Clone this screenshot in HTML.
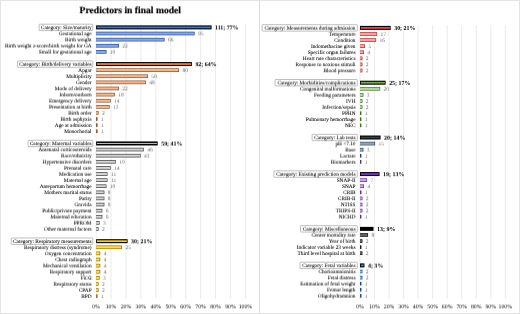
<!DOCTYPE html>
<html><head><meta charset="utf-8"><title>Predictors in final model</title>
<style>
html,body{margin:0;padding:0;background:#fff;}
#wrap{position:relative;width:520px;height:314px;overflow:hidden;background:#fff;}
#frame{position:absolute;left:0;top:0;width:518px;height:312px;border:1px solid #e4e4e4;pointer-events:none;}
svg{position:absolute;left:0;top:0;font-family:"Liberation Serif","Times New Roman",serif;text-rendering:geometricPrecision;}
text.l{stroke:#000;stroke-width:0.06px;}
</style></head><body>
<div id="wrap">
<svg width="520" height="314" viewBox="0 0 520 314">
<defs><filter id="s1" filterUnits="userSpaceOnUse" x="0" y="0" width="520" height="314" color-interpolation-filters="sRGB"><feOffset in="SourceGraphic" dy="1" result="o"/><feComposite in="SourceGraphic" in2="o" operator="arithmetic" k1="0" k2="0.9" k3="0.1" k4="0"/></filter><filter id="s2" filterUnits="userSpaceOnUse" x="0" y="0" width="520" height="314" color-interpolation-filters="sRGB"><feOffset in="SourceGraphic" dy="1" result="o"/><feComposite in="SourceGraphic" in2="o" operator="arithmetic" k1="0" k2="0.8" k3="0.2" k4="0"/></filter><filter id="s3" filterUnits="userSpaceOnUse" x="0" y="0" width="520" height="314" color-interpolation-filters="sRGB"><feOffset in="SourceGraphic" dy="1" result="o"/><feComposite in="SourceGraphic" in2="o" operator="arithmetic" k1="0" k2="0.7" k3="0.3" k4="0"/></filter><filter id="s4" filterUnits="userSpaceOnUse" x="0" y="0" width="520" height="314" color-interpolation-filters="sRGB"><feOffset in="SourceGraphic" dy="1" result="o"/><feComposite in="SourceGraphic" in2="o" operator="arithmetic" k1="0" k2="0.6" k3="0.4" k4="0"/></filter><filter id="s5" filterUnits="userSpaceOnUse" x="0" y="0" width="520" height="314" color-interpolation-filters="sRGB"><feOffset in="SourceGraphic" dy="1" result="o"/><feComposite in="SourceGraphic" in2="o" operator="arithmetic" k1="0" k2="0.5" k3="0.5" k4="0"/></filter><filter id="s6" filterUnits="userSpaceOnUse" x="0" y="0" width="520" height="314" color-interpolation-filters="sRGB"><feOffset in="SourceGraphic" dy="1" result="o"/><feComposite in="SourceGraphic" in2="o" operator="arithmetic" k1="0" k2="0.4" k3="0.6" k4="0"/></filter><filter id="s7" filterUnits="userSpaceOnUse" x="0" y="0" width="520" height="314" color-interpolation-filters="sRGB"><feOffset in="SourceGraphic" dy="1" result="o"/><feComposite in="SourceGraphic" in2="o" operator="arithmetic" k1="0" k2="0.3" k3="0.7" k4="0"/></filter><filter id="s8" filterUnits="userSpaceOnUse" x="0" y="0" width="520" height="314" color-interpolation-filters="sRGB"><feOffset in="SourceGraphic" dy="1" result="o"/><feComposite in="SourceGraphic" in2="o" operator="arithmetic" k1="0" k2="0.2" k3="0.8" k4="0"/></filter><filter id="s9" filterUnits="userSpaceOnUse" x="0" y="0" width="520" height="314" color-interpolation-filters="sRGB"><feOffset in="SourceGraphic" dy="1" result="o"/><feComposite in="SourceGraphic" in2="o" operator="arithmetic" k1="0" k2="0.1" k3="0.9" k4="0"/></filter></defs>
<line x1="259.6" y1="0" x2="259.6" y2="314" stroke="#dadada" stroke-width="1"/>
<line x1="96.10" y1="24.2" x2="96.10" y2="298.8" stroke="#e3e3e3" stroke-width="0.7"/>
<line x1="111.03" y1="24.2" x2="111.03" y2="298.8" stroke="#e3e3e3" stroke-width="0.7"/>
<line x1="125.96" y1="24.2" x2="125.96" y2="298.8" stroke="#e3e3e3" stroke-width="0.7"/>
<line x1="140.89" y1="24.2" x2="140.89" y2="298.8" stroke="#e3e3e3" stroke-width="0.7"/>
<line x1="155.82" y1="24.2" x2="155.82" y2="298.8" stroke="#e3e3e3" stroke-width="0.7"/>
<line x1="170.75" y1="24.2" x2="170.75" y2="298.8" stroke="#e3e3e3" stroke-width="0.7"/>
<line x1="185.68" y1="24.2" x2="185.68" y2="298.8" stroke="#e3e3e3" stroke-width="0.7"/>
<line x1="200.61" y1="24.2" x2="200.61" y2="298.8" stroke="#e3e3e3" stroke-width="0.7"/>
<line x1="215.54" y1="24.2" x2="215.54" y2="298.8" stroke="#e3e3e3" stroke-width="0.7"/>
<line x1="230.47" y1="24.2" x2="230.47" y2="298.8" stroke="#e3e3e3" stroke-width="0.7"/>
<line x1="245.40" y1="24.2" x2="245.40" y2="298.8" stroke="#e3e3e3" stroke-width="0.7"/>
<rect x="39.12" y="24.20" width="53.68" height="6.4" rx="0.6" fill="#fff" stroke="#8a8a8a" stroke-width="0.55"/>
<rect x="96.10" y="25.40" width="115.49" height="4.0" fill="#000"/>
<rect x="96.90" y="26.50" width="113.89" height="1.80" fill="#3a74e0"/>
<rect x="96.10" y="31.71" width="98.50" height="3.60" fill="#243c78"/>
<rect x="96.10" y="32.33" width="97.88" height="2.36" fill="#80a8f2"/>
<rect x="96.10" y="37.82" width="68.43" height="3.60" fill="#243c78"/>
<rect x="96.10" y="38.44" width="67.81" height="2.36" fill="#80a8f2"/>
<rect x="96.10" y="43.92" width="22.81" height="3.60" fill="#243c78"/>
<rect x="96.10" y="44.54" width="22.19" height="2.36" fill="#80a8f2"/>
<rect x="96.10" y="50.03" width="10.37" height="3.60" fill="#243c78"/>
<rect x="96.10" y="50.65" width="9.75" height="2.36" fill="#80a8f2"/>
<rect x="17.45" y="60.85" width="75.35" height="6.4" rx="0.6" fill="#fff" stroke="#8a8a8a" stroke-width="0.55"/>
<rect x="96.10" y="62.05" width="95.79" height="4.0" fill="#000"/>
<rect x="96.90" y="63.15" width="94.19" height="1.80" fill="#f57c20"/>
<rect x="96.10" y="68.36" width="82.94" height="3.60" fill="#7a4822"/>
<rect x="96.10" y="68.98" width="82.32" height="2.36" fill="#fcb284"/>
<rect x="96.10" y="74.46" width="51.84" height="3.60" fill="#7a4822"/>
<rect x="96.10" y="75.08" width="51.22" height="2.36" fill="#fcb284"/>
<rect x="96.10" y="80.57" width="49.77" height="3.60" fill="#7a4822"/>
<rect x="96.10" y="81.19" width="49.15" height="2.36" fill="#fcb284"/>
<rect x="96.10" y="86.68" width="22.81" height="3.60" fill="#7a4822"/>
<rect x="96.10" y="87.30" width="22.19" height="2.36" fill="#fcb284"/>
<rect x="96.10" y="92.79" width="18.66" height="3.60" fill="#7a4822"/>
<rect x="96.10" y="93.41" width="18.04" height="2.36" fill="#fcb284"/>
<rect x="96.10" y="98.90" width="14.52" height="3.60" fill="#7a4822"/>
<rect x="96.10" y="99.52" width="13.90" height="2.36" fill="#fcb284"/>
<rect x="96.10" y="105.00" width="13.48" height="3.60" fill="#7a4822"/>
<rect x="96.10" y="105.62" width="12.86" height="2.36" fill="#fcb284"/>
<rect x="96.10" y="111.11" width="2.47" height="3.60" fill="#7a4822"/>
<rect x="96.10" y="111.73" width="1.85" height="2.36" fill="#fcb284"/>
<rect x="96.10" y="117.22" width="1.44" height="3.60" fill="#7a4822"/>
<rect x="96.10" y="123.33" width="1.44" height="3.60" fill="#7a4822"/>
<rect x="96.10" y="129.44" width="1.44" height="3.60" fill="#7a4822"/>
<rect x="28.07" y="140.25" width="64.73" height="6.4" rx="0.6" fill="#fff" stroke="#8a8a8a" stroke-width="0.55"/>
<rect x="96.10" y="141.45" width="61.57" height="4.0" fill="#000"/>
<rect x="96.90" y="142.95" width="59.97" height="1.00" fill="#c4c4c4"/>
<rect x="96.10" y="147.76" width="47.69" height="3.60" fill="#484848"/>
<rect x="96.10" y="148.53" width="47.07" height="2.06" fill="#d4d4d4"/>
<rect x="96.10" y="153.87" width="44.58" height="3.60" fill="#484848"/>
<rect x="96.10" y="154.64" width="43.96" height="2.06" fill="#d4d4d4"/>
<rect x="96.10" y="159.98" width="19.70" height="3.60" fill="#484848"/>
<rect x="96.10" y="160.75" width="19.08" height="2.06" fill="#d4d4d4"/>
<rect x="96.10" y="166.08" width="14.52" height="3.60" fill="#484848"/>
<rect x="96.10" y="166.85" width="13.90" height="2.06" fill="#d4d4d4"/>
<rect x="96.10" y="172.19" width="11.40" height="3.60" fill="#484848"/>
<rect x="96.10" y="172.96" width="10.78" height="2.06" fill="#d4d4d4"/>
<rect x="96.10" y="178.30" width="11.40" height="3.60" fill="#484848"/>
<rect x="96.10" y="179.07" width="10.78" height="2.06" fill="#d4d4d4"/>
<rect x="96.10" y="184.41" width="10.37" height="3.60" fill="#484848"/>
<rect x="96.10" y="185.18" width="9.75" height="2.06" fill="#d4d4d4"/>
<rect x="96.10" y="190.52" width="8.29" height="3.60" fill="#484848"/>
<rect x="96.10" y="191.29" width="7.67" height="2.06" fill="#d4d4d4"/>
<rect x="96.10" y="196.62" width="8.29" height="3.60" fill="#484848"/>
<rect x="96.10" y="197.39" width="7.67" height="2.06" fill="#d4d4d4"/>
<rect x="96.10" y="202.73" width="8.29" height="3.60" fill="#484848"/>
<rect x="96.10" y="203.50" width="7.67" height="2.06" fill="#d4d4d4"/>
<rect x="96.10" y="208.84" width="6.22" height="3.60" fill="#484848"/>
<rect x="96.10" y="209.61" width="5.60" height="2.06" fill="#d4d4d4"/>
<rect x="96.10" y="214.95" width="6.22" height="3.60" fill="#484848"/>
<rect x="96.10" y="215.72" width="5.60" height="2.06" fill="#d4d4d4"/>
<rect x="96.10" y="221.06" width="3.51" height="3.60" fill="#484848"/>
<rect x="96.10" y="221.83" width="2.89" height="2.06" fill="#d4d4d4"/>
<rect x="96.10" y="227.16" width="2.47" height="3.60" fill="#484848"/>
<rect x="96.10" y="227.93" width="1.85" height="2.06" fill="#d4d4d4"/>
<rect x="11.26" y="237.98" width="81.54" height="6.4" rx="0.6" fill="#fff" stroke="#8a8a8a" stroke-width="0.55"/>
<rect x="96.10" y="239.18" width="31.50" height="4.0" fill="#000"/>
<rect x="96.90" y="240.28" width="29.90" height="1.80" fill="#ffcc00"/>
<rect x="96.10" y="245.49" width="25.92" height="3.60" fill="#8a6800"/>
<rect x="96.10" y="246.11" width="25.30" height="2.36" fill="#ffd840"/>
<rect x="96.10" y="251.60" width="4.15" height="3.60" fill="#8a6800"/>
<rect x="96.10" y="252.22" width="3.53" height="2.36" fill="#ffd840"/>
<rect x="96.10" y="257.70" width="4.15" height="3.60" fill="#8a6800"/>
<rect x="96.10" y="258.32" width="3.53" height="2.36" fill="#ffd840"/>
<rect x="96.10" y="263.81" width="4.15" height="3.60" fill="#8a6800"/>
<rect x="96.10" y="264.43" width="3.53" height="2.36" fill="#ffd840"/>
<rect x="96.10" y="269.92" width="4.15" height="3.60" fill="#8a6800"/>
<rect x="96.10" y="270.54" width="3.53" height="2.36" fill="#ffd840"/>
<rect x="96.10" y="276.03" width="3.51" height="3.60" fill="#8a6800"/>
<rect x="96.10" y="276.65" width="2.89" height="2.36" fill="#ffd840"/>
<rect x="96.10" y="282.14" width="2.47" height="3.60" fill="#8a6800"/>
<rect x="96.10" y="282.76" width="1.85" height="2.36" fill="#ffd840"/>
<rect x="96.10" y="288.24" width="2.47" height="3.60" fill="#8a6800"/>
<rect x="96.10" y="288.86" width="1.85" height="2.36" fill="#ffd840"/>
<rect x="96.10" y="294.35" width="1.44" height="3.60" fill="#8a6800"/>
<line x1="360.00" y1="25.0" x2="360.00" y2="299.2" stroke="#e3e3e3" stroke-width="0.7"/>
<line x1="374.53" y1="25.0" x2="374.53" y2="299.2" stroke="#e3e3e3" stroke-width="0.7"/>
<line x1="389.06" y1="25.0" x2="389.06" y2="299.2" stroke="#e3e3e3" stroke-width="0.7"/>
<line x1="403.59" y1="25.0" x2="403.59" y2="299.2" stroke="#e3e3e3" stroke-width="0.7"/>
<line x1="418.12" y1="25.0" x2="418.12" y2="299.2" stroke="#e3e3e3" stroke-width="0.7"/>
<line x1="432.65" y1="25.0" x2="432.65" y2="299.2" stroke="#e3e3e3" stroke-width="0.7"/>
<line x1="447.18" y1="25.0" x2="447.18" y2="299.2" stroke="#e3e3e3" stroke-width="0.7"/>
<line x1="461.71" y1="25.0" x2="461.71" y2="299.2" stroke="#e3e3e3" stroke-width="0.7"/>
<line x1="476.24" y1="25.0" x2="476.24" y2="299.2" stroke="#e3e3e3" stroke-width="0.7"/>
<line x1="490.77" y1="25.0" x2="490.77" y2="299.2" stroke="#e3e3e3" stroke-width="0.7"/>
<line x1="505.30" y1="25.0" x2="505.30" y2="299.2" stroke="#e3e3e3" stroke-width="0.7"/>
<rect x="262.11" y="24.70" width="95.19" height="6.4" rx="0.6" fill="#fff" stroke="#8a8a8a" stroke-width="0.55"/>
<rect x="360.00" y="25.90" width="30.67" height="4.0" fill="#000"/>
<rect x="360.80" y="27.00" width="29.07" height="1.80" fill="#ff3c3c"/>
<rect x="360.00" y="32.19" width="17.15" height="3.60" fill="#a82828"/>
<rect x="360.00" y="32.81" width="16.53" height="2.36" fill="#ff9c9c"/>
<rect x="360.00" y="38.28" width="16.14" height="3.60" fill="#a82828"/>
<rect x="360.00" y="38.90" width="15.52" height="2.36" fill="#ff9c9c"/>
<rect x="360.00" y="44.37" width="5.05" height="3.60" fill="#a82828"/>
<rect x="360.00" y="44.99" width="4.43" height="2.36" fill="#ff9c9c"/>
<rect x="360.00" y="50.46" width="4.04" height="3.60" fill="#a82828"/>
<rect x="360.00" y="51.08" width="3.42" height="2.36" fill="#ff9c9c"/>
<rect x="360.00" y="56.55" width="2.42" height="3.60" fill="#a82828"/>
<rect x="360.00" y="57.17" width="1.80" height="2.36" fill="#ff9c9c"/>
<rect x="360.00" y="62.64" width="2.42" height="3.60" fill="#a82828"/>
<rect x="360.00" y="63.26" width="1.80" height="2.36" fill="#ff9c9c"/>
<rect x="360.00" y="68.73" width="2.42" height="3.60" fill="#a82828"/>
<rect x="360.00" y="69.35" width="1.80" height="2.36" fill="#ff9c9c"/>
<rect x="275.09" y="79.51" width="82.21" height="6.4" rx="0.6" fill="#fff" stroke="#8a8a8a" stroke-width="0.55"/>
<rect x="360.00" y="80.71" width="25.63" height="4.0" fill="#000"/>
<rect x="360.80" y="81.81" width="24.03" height="1.80" fill="#70ad47"/>
<rect x="360.00" y="87.00" width="20.18" height="3.60" fill="#3e6e26"/>
<rect x="360.00" y="87.62" width="19.56" height="2.36" fill="#b0da94"/>
<rect x="360.00" y="93.09" width="3.43" height="3.60" fill="#3e6e26"/>
<rect x="360.00" y="93.71" width="2.81" height="2.36" fill="#b0da94"/>
<rect x="360.00" y="99.18" width="2.42" height="3.60" fill="#3e6e26"/>
<rect x="360.00" y="99.80" width="1.80" height="2.36" fill="#b0da94"/>
<rect x="360.00" y="105.27" width="2.42" height="3.60" fill="#3e6e26"/>
<rect x="360.00" y="105.89" width="1.80" height="2.36" fill="#b0da94"/>
<rect x="360.00" y="111.36" width="1.41" height="3.60" fill="#3e6e26"/>
<rect x="360.00" y="117.45" width="1.41" height="3.60" fill="#3e6e26"/>
<rect x="360.00" y="123.54" width="1.41" height="3.60" fill="#3e6e26"/>
<rect x="312.11" y="134.32" width="45.19" height="6.4" rx="0.6" fill="#fff" stroke="#8a8a8a" stroke-width="0.55"/>
<rect x="360.00" y="135.52" width="20.58" height="4.0" fill="#000"/>
<rect x="360.80" y="136.62" width="18.98" height="1.80" fill="#333f50"/>
<rect x="360.00" y="141.81" width="15.14" height="3.60" fill="#333f55"/>
<rect x="360.00" y="142.43" width="14.52" height="2.36" fill="#8fa4c4"/>
<rect x="360.00" y="147.90" width="3.43" height="3.60" fill="#333f55"/>
<rect x="360.00" y="148.52" width="2.81" height="2.36" fill="#8fa4c4"/>
<rect x="360.00" y="153.99" width="1.41" height="3.60" fill="#333f55"/>
<rect x="360.00" y="160.08" width="1.41" height="3.60" fill="#333f55"/>
<rect x="273.91" y="170.86" width="83.39" height="6.4" rx="0.6" fill="#fff" stroke="#8a8a8a" stroke-width="0.55"/>
<rect x="360.00" y="172.06" width="19.57" height="4.0" fill="#000"/>
<rect x="360.80" y="173.16" width="17.97" height="1.80" fill="#8030d0"/>
<rect x="360.00" y="178.35" width="7.06" height="3.60" fill="#5e249c"/>
<rect x="360.00" y="178.97" width="6.44" height="2.36" fill="#c6a0f0"/>
<rect x="360.00" y="184.44" width="4.04" height="3.60" fill="#5e249c"/>
<rect x="360.00" y="185.06" width="3.42" height="2.36" fill="#c6a0f0"/>
<rect x="360.00" y="190.53" width="1.41" height="3.60" fill="#5e249c"/>
<rect x="360.00" y="196.62" width="2.42" height="3.60" fill="#5e249c"/>
<rect x="360.00" y="197.24" width="1.80" height="2.36" fill="#c6a0f0"/>
<rect x="360.00" y="202.71" width="2.42" height="3.60" fill="#5e249c"/>
<rect x="360.00" y="203.33" width="1.80" height="2.36" fill="#c6a0f0"/>
<rect x="360.00" y="208.80" width="2.42" height="3.60" fill="#5e249c"/>
<rect x="360.00" y="209.42" width="1.80" height="2.36" fill="#c6a0f0"/>
<rect x="360.00" y="214.89" width="1.41" height="3.60" fill="#5e249c"/>
<rect x="300.46" y="225.67" width="56.84" height="6.4" rx="0.6" fill="#fff" stroke="#8a8a8a" stroke-width="0.55"/>
<rect x="360.00" y="226.87" width="13.52" height="4.0" fill="#000"/>
<rect x="360.80" y="227.97" width="11.92" height="1.80" fill="#000000"/>
<rect x="360.00" y="233.16" width="8.07" height="3.60" fill="#101010"/>
<rect x="360.00" y="233.78" width="7.45" height="2.36" fill="#606060"/>
<rect x="360.00" y="239.25" width="2.42" height="3.60" fill="#101010"/>
<rect x="360.00" y="239.87" width="1.80" height="2.36" fill="#606060"/>
<rect x="360.00" y="245.34" width="1.41" height="3.60" fill="#101010"/>
<rect x="360.00" y="251.43" width="2.42" height="3.60" fill="#101010"/>
<rect x="360.00" y="252.05" width="1.80" height="2.36" fill="#606060"/>
<rect x="300.02" y="262.21" width="57.28" height="6.4" rx="0.6" fill="#fff" stroke="#8a8a8a" stroke-width="0.55"/>
<rect x="360.00" y="263.41" width="4.44" height="4.0" fill="#000"/>
<rect x="360.80" y="264.51" width="2.84" height="1.80" fill="#2e8ae6"/>
<rect x="360.00" y="269.70" width="2.42" height="3.60" fill="#1e4680"/>
<rect x="360.00" y="270.32" width="1.80" height="2.36" fill="#88bef0"/>
<rect x="360.00" y="275.79" width="2.42" height="3.60" fill="#1e4680"/>
<rect x="360.00" y="276.41" width="1.80" height="2.36" fill="#88bef0"/>
<rect x="360.00" y="281.88" width="1.41" height="3.60" fill="#1e4680"/>
<rect x="360.00" y="287.97" width="1.41" height="3.60" fill="#1e4680"/>
<rect x="360.00" y="294.06" width="1.41" height="3.60" fill="#1e4680"/>
<g>
<text x="91.60" y="78" class="l" font-size="5.31" text-anchor="end" fill="#000">Multiplicity</text>
<text x="100.94" y="127" font-size="5.5" fill="#6e6e6e">1</text>
<text x="91.60" y="133" class="l" font-size="5.31" text-anchor="end" fill="#000">Monochorial</text>
<text x="110.90" y="182" font-size="5.5" fill="#6e6e6e">11</text>
<text x="91.60" y="188" class="l" font-size="5.31" text-anchor="end" fill="#000">Antepartum hemorrhage</text>
<text x="91.60" y="243" class="l" font-size="5.31" text-anchor="end" fill="#000">Category: Respiratory measurements</text>
<text x="394.17" y="30" font-size="5.95" font-weight="bold" fill="#000">30; 21%</text>
<text x="379.54" y="42" font-size="5.5" fill="#6e6e6e">16</text>
<text x="355.50" y="48" class="l" font-size="5.31" text-anchor="end" fill="#000">Indomethacine given</text>
<text x="355.50" y="54" class="l" font-size="5.31" text-anchor="end" fill="#000">Specific organ failures</text>
<text x="365.82" y="109" font-size="5.5" fill="#6e6e6e">2</text>
<text x="355.50" y="121" class="l" font-size="5.31" text-anchor="end" fill="#000">Pulmonary hemorrhage</text>
<text x="355.50" y="188" class="l" font-size="5.31" text-anchor="end" fill="#000">SNAP</text>
<text x="377.02" y="231" font-size="5.95" font-weight="bold" fill="#000">13; 9%</text>
<text x="365.82" y="243" font-size="5.5" fill="#6e6e6e">2</text>
<text x="364.81" y="249" font-size="5.5" fill="#6e6e6e">1</text>
<text x="355.50" y="255" class="l" font-size="5.31" text-anchor="end" fill="#000">Third level hospital at birth</text>
</g>
<g filter="url(#s1)">
<text x="182.44" y="72" font-size="5.5" fill="#6e6e6e">80</text>
<text x="100.94" y="133" font-size="5.5" fill="#6e6e6e">1</text>
<text x="109.87" y="188" font-size="5.5" fill="#6e6e6e">10</text>
<text x="91.60" y="194" class="l" font-size="5.31" text-anchor="end" fill="#000">Mothers marital status</text>
<text x="91.60" y="249" class="l" font-size="5.31" text-anchor="end" fill="#000">Respiratory distress (syndrome)</text>
<text x="100.94" y="298" font-size="5.5" fill="#6e6e6e">1</text>
<text x="368.45" y="48" font-size="5.5" fill="#6e6e6e">5</text>
<text x="355.50" y="60" class="l" font-size="5.31" text-anchor="end" fill="#000">Heart rate characteristics</text>
<text x="364.81" y="115" font-size="5.5" fill="#6e6e6e">1</text>
<text x="355.50" y="127" class="l" font-size="5.31" text-anchor="end" fill="#000">NEC</text>
<text x="370.46" y="182" font-size="5.5" fill="#6e6e6e">7</text>
<text x="367.44" y="188" font-size="5.5" fill="#6e6e6e">4</text>
<text x="355.50" y="194" class="l" font-size="5.31" text-anchor="end" fill="#000">CRIB</text>
<text x="365.82" y="255" font-size="5.5" fill="#6e6e6e">2</text>
</g>
<g filter="url(#s2)">
<text x="91.60" y="29" class="l" font-size="5.31" text-anchor="end" fill="#000">Category: Size/maturity</text>
<text x="195.39" y="66" font-size="5.95" font-weight="bold" fill="#000">92; 64%</text>
<text x="151.34" y="78" font-size="5.5" fill="#6e6e6e">50</text>
<text x="91.60" y="84" class="l" font-size="5.31" text-anchor="end" fill="#000">Gender</text>
<text x="91.60" y="145" class="l" font-size="5.31" text-anchor="end" fill="#000">Category: Maternal variables</text>
<text x="107.79" y="194" font-size="5.5" fill="#6e6e6e">8</text>
<text x="91.60" y="200" class="l" font-size="5.31" text-anchor="end" fill="#000">Parity</text>
<text x="125.42" y="249" font-size="5.5" fill="#6e6e6e">25</text>
<text x="91.60" y="255" class="l" font-size="5.31" text-anchor="end" fill="#000">Oxygen concentration</text>
<text x="367.44" y="54" font-size="5.5" fill="#6e6e6e">4</text>
<text x="365.82" y="60" font-size="5.5" fill="#6e6e6e">2</text>
<text x="355.50" y="66" class="l" font-size="5.31" text-anchor="end" fill="#000">Response to noxious stimuli</text>
<text x="364.81" y="121" font-size="5.5" fill="#6e6e6e">1</text>
<text x="364.81" y="127" font-size="5.5" fill="#6e6e6e">1</text>
<text x="383.07" y="176" font-size="5.95" font-weight="bold" fill="#000">19; 13%</text>
<text x="364.81" y="194" font-size="5.5" fill="#6e6e6e">1</text>
<text x="355.50" y="200" class="l" font-size="5.31" text-anchor="end" fill="#000">CRIB-II</text>
<text x="355.50" y="267" class="l" font-size="5.31" text-anchor="end" fill="#000">Category: Fetal variables</text>
</g>
<g filter="url(#s3)">
<text x="91.60" y="35" class="l" font-size="5.31" text-anchor="end" fill="#000">Gestational age</text>
<text x="149.27" y="84" font-size="5.5" fill="#6e6e6e">48</text>
<text x="91.60" y="90" class="l" font-size="5.31" text-anchor="end" fill="#000">Mode of delivery</text>
<text x="91.60" y="151" class="l" font-size="5.31" text-anchor="end" fill="#000">Antenatal corticosteroids</text>
<text x="107.79" y="200" font-size="5.5" fill="#6e6e6e">8</text>
<text x="91.60" y="206" class="l" font-size="5.31" text-anchor="end" fill="#000">Gravida</text>
<text x="131.10" y="243" font-size="5.95" font-weight="bold" fill="#000">30; 21%</text>
<text x="103.65" y="255" font-size="5.5" fill="#6e6e6e">4</text>
<text x="91.60" y="261" class="l" font-size="5.31" text-anchor="end" fill="#000">Chest radiograph</text>
<text x="365.82" y="66" font-size="5.5" fill="#6e6e6e">2</text>
<text x="355.50" y="72" class="l" font-size="5.31" text-anchor="end" fill="#000">Blood pressure</text>
<text x="355.50" y="139" class="l" font-size="5.31" text-anchor="end" fill="#000">Category: Lab tests</text>
<text x="365.82" y="200" font-size="5.5" fill="#6e6e6e">2</text>
<text x="355.50" y="206" class="l" font-size="5.31" text-anchor="end" fill="#000">NTISS</text>
<text x="355.50" y="273" class="l" font-size="5.31" text-anchor="end" fill="#000">Chorioamnionitis</text>
<text x="130.30" y="13" font-size="9.6" font-weight="bold" text-anchor="middle" fill="#000" stroke="#000" stroke-width="0.2">Predictors in final model</text>
</g>
<g filter="url(#s4)">
<text x="96.10" y="308" font-size="5.8" text-anchor="middle" fill="#000">0%</text>
<text x="111.03" y="308" font-size="5.8" text-anchor="middle" fill="#000">10%</text>
<text x="125.96" y="308" font-size="5.8" text-anchor="middle" fill="#000">20%</text>
<text x="140.89" y="308" font-size="5.8" text-anchor="middle" fill="#000">30%</text>
<text x="155.82" y="308" font-size="5.8" text-anchor="middle" fill="#000">40%</text>
<text x="170.75" y="308" font-size="5.8" text-anchor="middle" fill="#000">50%</text>
<text x="185.68" y="308" font-size="5.8" text-anchor="middle" fill="#000">60%</text>
<text x="200.61" y="308" font-size="5.8" text-anchor="middle" fill="#000">70%</text>
<text x="215.54" y="308" font-size="5.8" text-anchor="middle" fill="#000">80%</text>
<text x="230.47" y="308" font-size="5.8" text-anchor="middle" fill="#000">90%</text>
<text x="245.40" y="308" font-size="5.8" text-anchor="middle" fill="#000">100%</text>
<text x="198.00" y="35" font-size="5.5" fill="#6e6e6e">95</text>
<text x="91.60" y="41" class="l" font-size="5.31" text-anchor="end" fill="#000">Birth weight</text>
<text x="122.31" y="90" font-size="5.5" fill="#6e6e6e">22</text>
<text x="91.60" y="96" class="l" font-size="5.31" text-anchor="end" fill="#000">Inborn/outborn</text>
<text x="91.60" y="157" class="l" font-size="5.31" text-anchor="end" fill="#000">Race/ethnicity</text>
<text x="107.79" y="206" font-size="5.5" fill="#6e6e6e">8</text>
<text x="91.60" y="212" class="l" font-size="5.31" text-anchor="end" fill="#000">Public/private payment</text>
<text x="103.65" y="261" font-size="5.5" fill="#6e6e6e">4</text>
<text x="91.60" y="267" class="l" font-size="5.31" text-anchor="end" fill="#000">Mechanical ventilation</text>
<text x="360.00" y="308" font-size="5.8" text-anchor="middle" fill="#000">0%</text>
<text x="374.53" y="308" font-size="5.8" text-anchor="middle" fill="#000">10%</text>
<text x="389.06" y="308" font-size="5.8" text-anchor="middle" fill="#000">20%</text>
<text x="403.59" y="308" font-size="5.8" text-anchor="middle" fill="#000">30%</text>
<text x="418.12" y="308" font-size="5.8" text-anchor="middle" fill="#000">40%</text>
<text x="432.65" y="308" font-size="5.8" text-anchor="middle" fill="#000">50%</text>
<text x="447.18" y="308" font-size="5.8" text-anchor="middle" fill="#000">60%</text>
<text x="461.71" y="308" font-size="5.8" text-anchor="middle" fill="#000">70%</text>
<text x="476.24" y="308" font-size="5.8" text-anchor="middle" fill="#000">80%</text>
<text x="490.77" y="308" font-size="5.8" text-anchor="middle" fill="#000">90%</text>
<text x="505.30" y="308" font-size="5.8" text-anchor="middle" fill="#000">100%</text>
<text x="365.82" y="72" font-size="5.5" fill="#6e6e6e">2</text>
<text x="355.50" y="145" class="l" font-size="5.31" text-anchor="end" fill="#000">pH &lt;7.10</text>
<text x="365.82" y="206" font-size="5.5" fill="#6e6e6e">2</text>
<text x="355.50" y="212" class="l" font-size="5.31" text-anchor="end" fill="#000">TRIPS-II</text>
<text x="365.82" y="273" font-size="5.5" fill="#6e6e6e">2</text>
<text x="355.50" y="279" class="l" font-size="5.31" text-anchor="end" fill="#000">Fetal distress</text>
</g>
<g filter="url(#s5)">
<text x="215.09" y="29" font-size="5.95" font-weight="bold" fill="#000">111; 77%</text>
<text x="167.93" y="41" font-size="5.5" fill="#6e6e6e">66</text>
<text x="91.60" y="47" class="l" font-size="5.31" text-anchor="end" fill="#000">Birth weight <tspan font-style="italic">z</tspan>-score/birth weight for GA</text>
<text x="118.16" y="96" font-size="5.5" fill="#6e6e6e">18</text>
<text x="91.60" y="102" class="l" font-size="5.31" text-anchor="end" fill="#000">Emergency delivery</text>
<text x="147.19" y="151" font-size="5.5" fill="#6e6e6e">46</text>
<text x="105.72" y="212" font-size="5.5" fill="#6e6e6e">6</text>
<text x="91.60" y="218" class="l" font-size="5.31" text-anchor="end" fill="#000">Maternal education</text>
<text x="103.65" y="267" font-size="5.5" fill="#6e6e6e">4</text>
<text x="91.60" y="273" class="l" font-size="5.31" text-anchor="end" fill="#000">Respiratory support</text>
<text x="355.50" y="84" class="l" font-size="5.31" text-anchor="end" fill="#000">Category: Morbidities/complications</text>
<text x="378.54" y="145" font-size="5.5" fill="#6e6e6e">15</text>
<text x="355.50" y="151" class="l" font-size="5.31" text-anchor="end" fill="#000">Base</text>
<text x="365.82" y="212" font-size="5.5" fill="#6e6e6e">2</text>
<text x="355.50" y="218" class="l" font-size="5.31" text-anchor="end" fill="#000">NICHD</text>
<text x="365.82" y="279" font-size="5.5" fill="#6e6e6e">2</text>
<text x="355.50" y="285" class="l" font-size="5.31" text-anchor="end" fill="#000">Estimation of fetal weight</text>
<text x="355.50" y="291" class="l" font-size="5.31" text-anchor="end" fill="#000">Femur length</text>
</g>
<g filter="url(#s6)">
<text x="122.31" y="47" font-size="5.5" fill="#6e6e6e">22</text>
<text x="91.60" y="53" class="l" font-size="5.31" text-anchor="end" fill="#000">Small for gestational age</text>
<text x="114.02" y="102" font-size="5.5" fill="#6e6e6e">14</text>
<text x="91.60" y="108" class="l" font-size="5.31" text-anchor="end" fill="#000">Presentation at birth</text>
<text x="161.17" y="145" font-size="5.95" font-weight="bold" fill="#000">59; 41%</text>
<text x="144.08" y="157" font-size="5.5" fill="#6e6e6e">43</text>
<text x="91.60" y="163" class="l" font-size="5.31" text-anchor="end" fill="#000">Hypertensive disorders</text>
<text x="105.72" y="218" font-size="5.5" fill="#6e6e6e">6</text>
<text x="91.60" y="224" class="l" font-size="5.31" text-anchor="end" fill="#000">PPROM</text>
<text x="103.65" y="273" font-size="5.5" fill="#6e6e6e">4</text>
<text x="91.60" y="279" class="l" font-size="5.31" text-anchor="end" fill="#000">FiO2</text>
<text x="355.50" y="90" class="l" font-size="5.31" text-anchor="end" fill="#000">Congenital malformations</text>
<text x="366.83" y="151" font-size="5.5" fill="#6e6e6e">3</text>
<text x="355.50" y="157" class="l" font-size="5.31" text-anchor="end" fill="#000">Lactate</text>
<text x="364.81" y="218" font-size="5.5" fill="#6e6e6e">1</text>
<text x="367.94" y="267" font-size="5.95" font-weight="bold" fill="#000">4; 3%</text>
<text x="364.81" y="285" font-size="5.5" fill="#6e6e6e">1</text>
<text x="355.50" y="297" class="l" font-size="5.31" text-anchor="end" fill="#000">Oligohydramnion</text>
</g>
<g filter="url(#s7)">
<text x="109.87" y="53" font-size="5.5" fill="#6e6e6e">10</text>
<text x="112.98" y="108" font-size="5.5" fill="#6e6e6e">13</text>
<text x="91.60" y="114" class="l" font-size="5.31" text-anchor="end" fill="#000">Birth order</text>
<text x="119.20" y="163" font-size="5.5" fill="#6e6e6e">19</text>
<text x="91.60" y="169" class="l" font-size="5.31" text-anchor="end" fill="#000">Prenatal care</text>
<text x="91.60" y="230" class="l" font-size="5.31" text-anchor="end" fill="#000">Other maternal factors</text>
<text x="103.01" y="279" font-size="5.5" fill="#6e6e6e">3</text>
<text x="91.60" y="285" class="l" font-size="5.31" text-anchor="end" fill="#000">Respiratory status</text>
<text x="355.50" y="29" class="l" font-size="5.31" text-anchor="end" fill="#000">Category: Measurements during admission</text>
<text x="383.58" y="90" font-size="5.5" fill="#6e6e6e">20</text>
<text x="355.50" y="96" class="l" font-size="5.31" text-anchor="end" fill="#000">Feeding parameters</text>
<text x="384.08" y="139" font-size="5.95" font-weight="bold" fill="#000">20; 14%</text>
<text x="364.81" y="157" font-size="5.5" fill="#6e6e6e">1</text>
<text x="355.50" y="163" class="l" font-size="5.31" text-anchor="end" fill="#000">Biomarkers</text>
<text x="355.50" y="230" class="l" font-size="5.31" text-anchor="end" fill="#000">Category: Miscellaneous</text>
<text x="355.50" y="236" class="l" font-size="5.31" text-anchor="end" fill="#000">Center mortality rate</text>
<text x="364.81" y="291" font-size="5.5" fill="#6e6e6e">1</text>
</g>
<g filter="url(#s8)">
<text x="91.60" y="65" class="l" font-size="5.31" text-anchor="end" fill="#000">Category: Birth/delivery variables</text>
<text x="101.97" y="114" font-size="5.5" fill="#6e6e6e">2</text>
<text x="91.60" y="120" class="l" font-size="5.31" text-anchor="end" fill="#000">Birth asphyxia</text>
<text x="114.02" y="169" font-size="5.5" fill="#6e6e6e">14</text>
<text x="91.60" y="175" class="l" font-size="5.31" text-anchor="end" fill="#000">Medication use</text>
<text x="103.01" y="224" font-size="5.5" fill="#6e6e6e">3</text>
<text x="101.97" y="285" font-size="5.5" fill="#6e6e6e">2</text>
<text x="91.60" y="291" class="l" font-size="5.31" text-anchor="end" fill="#000">CPAP</text>
<text x="355.50" y="35" class="l" font-size="5.31" text-anchor="end" fill="#000">Temperature</text>
<text x="366.83" y="96" font-size="5.5" fill="#6e6e6e">3</text>
<text x="355.50" y="102" class="l" font-size="5.31" text-anchor="end" fill="#000">IVH</text>
<text x="355.50" y="108" class="l" font-size="5.31" text-anchor="end" fill="#000">Infection/sepsis</text>
<text x="364.81" y="163" font-size="5.5" fill="#6e6e6e">1</text>
<text x="355.50" y="175" class="l" font-size="5.31" text-anchor="end" fill="#000">Category: Existing prediction models</text>
<text x="355.50" y="242" class="l" font-size="5.31" text-anchor="end" fill="#000">Year of birth</text>
<text x="364.81" y="297" font-size="5.5" fill="#6e6e6e">1</text>
</g>
<g filter="url(#s9)">
<text x="91.60" y="71" class="l" font-size="5.31" text-anchor="end" fill="#000">Apgar</text>
<text x="100.94" y="120" font-size="5.5" fill="#6e6e6e">1</text>
<text x="91.60" y="126" class="l" font-size="5.31" text-anchor="end" fill="#000">Age at admission</text>
<text x="110.90" y="175" font-size="5.5" fill="#6e6e6e">11</text>
<text x="91.60" y="181" class="l" font-size="5.31" text-anchor="end" fill="#000">Maternal age</text>
<text x="101.97" y="230" font-size="5.5" fill="#6e6e6e">2</text>
<text x="101.97" y="291" font-size="5.5" fill="#6e6e6e">2</text>
<text x="91.60" y="297" class="l" font-size="5.31" text-anchor="end" fill="#000">BPD</text>
<text x="380.55" y="35" font-size="5.5" fill="#6e6e6e">17</text>
<text x="355.50" y="41" class="l" font-size="5.31" text-anchor="end" fill="#000">Condition</text>
<text x="389.13" y="84" font-size="5.95" font-weight="bold" fill="#000">25; 17%</text>
<text x="365.82" y="102" font-size="5.5" fill="#6e6e6e">2</text>
<text x="355.50" y="114" class="l" font-size="5.31" text-anchor="end" fill="#000">PPHN</text>
<text x="355.50" y="181" class="l" font-size="5.31" text-anchor="end" fill="#000">SNAP-II</text>
<text x="371.47" y="236" font-size="5.5" fill="#6e6e6e">8</text>
<text x="355.50" y="248" class="l" font-size="5.31" text-anchor="end" fill="#000">Indicator variable 23 weeks</text>
</g>

</svg>
<div id="frame"></div>
</div>
</body></html>
